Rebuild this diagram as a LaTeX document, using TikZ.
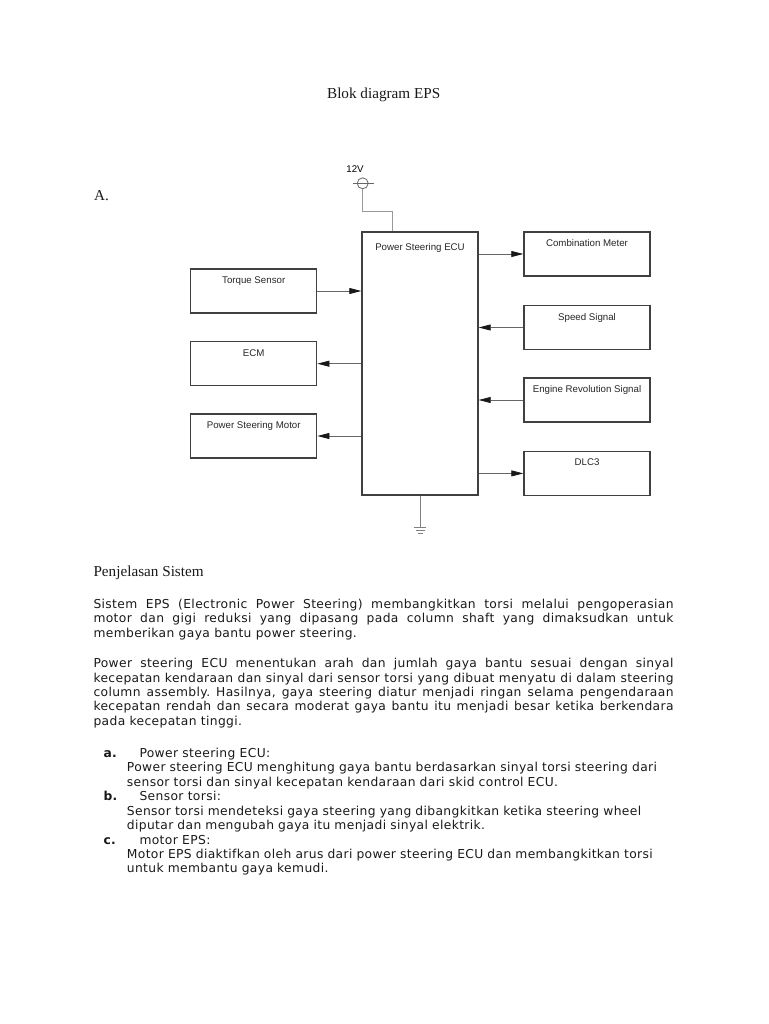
\documentclass[tikz,border=0pt]{standalone}
\usepackage{fontspec}
\setmainfont{Liberation Serif}
\newfontfamily\lblfont{Liberation Sans}
\newfontfamily\bodyfont[LetterSpace=3]{DejaVu Sans}
\usetikzlibrary{arrows.meta,positioning}
\newcommand{\lblsize}{\fontsize{9.7}{11}\selectfont}
\newcommand{\bodysize}{\fontsize{12.3}{14.4}\selectfont\frenchspacing}
\newcommand{\hdrsize}{\fontsize{15.2}{17}\selectfont}
\tikzset{
	blk/.style={rectangle,draw=black!75,line width=1.4pt,minimum width=126pt,inner xsep=0pt,inner ysep=3pt,text height=11.5pt,text depth=26.5pt,font=\lblfont\lblsize,text=black!85},
	ecubox/.style={blk,minimum width=116pt,text height=15pt,text depth=242pt},
	conn/.style={-{Triangle[length=12pt,width=6pt,color=black!90]},black!60,line width=0.8pt},
	wire/.style={black!40,line width=0.8pt},
	body/.style={font=\bodyfont\bodysize,text=black!90,inner sep=0pt},
	hdr/.style={font=\hdrsize,text=black!90,inner sep=0pt}
}

\begin{document}
\begin{tikzpicture}[x=1pt,y=1pt]
	%% page
	\useasboundingbox (0,0) rectangle (768,-1024);

	%% title
	\node [hdr,anchor=base] (title) at (383.7,-99) {Blok diagram EPS};
	\node [hdr,anchor=base west] (partA) at (94,-200.7) {A.};

	%% ECU and blocks
	\node [ecubox] (ecu) at (420,-363.5) {Power Steering ECU};
	\node [blk] (cm) at (587,-254) {Combination Meter};
	\node [blk] (sp) at (587,-327.5) {Speed Signal};
	\node [blk] (er) at (587,-400) {Engine Revolution Signal};
	\node [blk] (dlc) at (587,-473.4) {DLC3};
	\node [blk] (tq) at (253.7,-291) {Torque Sensor};
	\node [blk] (ecm) at (253.7,-363.7) {ECM};
	\node [blk] (psm) at (253.7,-436) {Power Steering Motor};

	%% signals
	\draw [conn] (cm.west -| ecu.east) -- (cm.west);
	\draw [conn] (sp.west) -- (sp.west -| ecu.east);
	\draw [conn] (er.west) -- (er.west -| ecu.east);
	\draw [conn] (dlc.west -| ecu.east) -- (dlc.west);
	\draw [conn] (tq.east) -- (tq.east -| ecu.west);
	\draw [conn] (ecm.east -| ecu.west) -- (ecm.east);
	\draw [conn] (psm.east -| ecu.west) -- (psm.east);

	%% supply 12V
	\node [circle,draw=black!60,line width=0.8pt,minimum size=11pt,inner sep=0pt] (src) at (362.7,-183.3) {};
	\node [anchor=base,inner sep=0pt,font=\lblfont\lblsize] (vlbl) at (355,-172.3) {12V};
	\draw [black!60,line width=0.8pt] ([xshift=-10pt]src.center) -- ([xshift=11pt]src.center);
	\coordinate (tap) at (392,-211);
	\draw [wire] (src.south) |- (tap) -- (tap |- ecu.north);

	%% ground
	\coordinate (gnd) at (420,-527.7);
	\draw [black!50,line width=0.8pt] (ecu.south) -- (gnd);
	\draw [black!50,line width=0.8pt] ([xshift=-6.3pt]gnd) -- ([xshift=6.3pt]gnd);
	\draw [black!50,line width=0.8pt] ([xshift=-4.5pt,yshift=-3pt]gnd) -- ([xshift=4.5pt,yshift=-3pt]gnd);
	\draw [black!50,line width=0.8pt] ([xshift=-2.5pt,yshift=-5.6pt]gnd) -- ([xshift=2.5pt,yshift=-5.6pt]gnd);

	%% text
	\node [hdr,anchor=base west] (sub) at (93.3,-576.7) {Penjelasan Sistem};
	\node [body,anchor=base west,text width=580pt,align=justify] (par1) at (93.3,-608.3) {Sistem EPS (Electronic Power Steering) membangkitkan torsi melalui pengoperasian\linebreak motor dan gigi reduksi yang dipasang pada column shaft yang dimaksudkan untuk\linebreak memberikan gaya bantu power steering.};
	\node [body,anchor=base west,text width=580pt,align=justify] (par2) at (93.3,-667.7) {Power steering ECU menentukan arah dan jumlah gaya bantu sesuai dengan sinyal\linebreak kecepatan kendaraan dan sinyal dari sensor torsi yang dibuat menyatu di dalam steering\linebreak column assembly. Hasilnya, gaya steering diatur menjadi ringan selama pengendaraan\linebreak kecepatan rendah dan secara moderat gaya bantu itu menjadi besar ketika berkendara\linebreak pada kecepatan tinggi.};

	%% list
	\node [body,anchor=base west,font=\bodyfont\bfseries\bodysize] (ia) at (103.3,-757.3) {a.};
	\node [body,anchor=base west] (ha) at (139.3,-757.3) {Power steering ECU:};
	\node [body,anchor=base west,text width=560pt,align=left] (ta) at (126.7,-771.7) {Power steering ECU menghitung gaya bantu berdasarkan sinyal torsi steering dari\\sensor torsi dan sinyal kecepatan kendaraan dari skid control ECU.};
	\node [body,anchor=base west,font=\bodyfont\bfseries\bodysize] (ib) at (103.3,-800.7) {b.};
	\node [body,anchor=base west] (hb) at (139.3,-800.7) {Sensor torsi:};
	\node [body,anchor=base west,text width=560pt,align=left] (tb) at (126.7,-815) {Sensor torsi mendeteksi gaya steering yang dibangkitkan ketika steering wheel\\diputar dan mengubah gaya itu menjadi sinyal elektrik.};
	\node [body,anchor=base west,font=\bodyfont\bfseries\bodysize] (ic) at (103.3,-844) {c.};
	\node [body,anchor=base west] (hc) at (139.3,-844) {motor EPS:};
	\node [body,anchor=base west,text width=560pt,align=left] (tc) at (126.7,-858.3) {Motor EPS diaktifkan oleh arus dari power steering ECU dan membangkitkan torsi\\untuk membantu gaya kemudi.};
\end{tikzpicture}
\end{document}
